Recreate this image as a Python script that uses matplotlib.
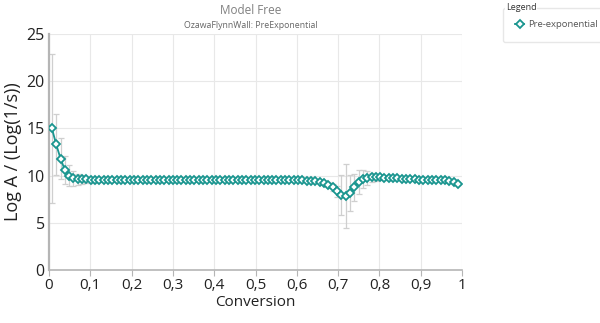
import numpy as np
import matplotlib
matplotlib.use("Agg")
import matplotlib.pyplot as plt
from matplotlib.ticker import FuncFormatter
from matplotlib.lines import Line2D

plt.rcParams['font.family'] = ['Open Sans', 'DejaVu Sans']

# conversion grid (95 points) and Log A values with error
conversion = np.round(np.linspace(0.007, 0.99, 95), 4)
log_a = [15.0, 13.3, 11.8, 10.6, 10.0, 9.7, 9.6, 9.6, 9.6, 9.55,
         9.55, 9.55, 9.55, 9.5, 9.5, 9.5, 9.5, 9.5, 9.5, 9.5,
         9.5, 9.5, 9.5, 9.5, 9.5, 9.5, 9.5, 9.5, 9.55, 9.55,
         9.55, 9.55, 9.55, 9.55, 9.55, 9.55, 9.55, 9.55, 9.55, 9.55,
         9.55, 9.55, 9.55, 9.55, 9.55, 9.55, 9.55, 9.55, 9.55, 9.55,
         9.55, 9.55, 9.55, 9.55, 9.5, 9.5, 9.5, 9.5, 9.5, 9.45,
         9.45, 9.4, 9.35, 9.25, 9.05, 8.75, 8.35, 7.95, 7.8, 8.2,
         8.75, 9.3, 9.6, 9.75, 9.8, 9.8, 9.8, 9.75, 9.75, 9.7,
         9.7, 9.65, 9.6, 9.6, 9.6, 9.55, 9.55, 9.55, 9.55, 9.55,
         9.5, 9.5, 9.45, 9.35, 9.15]
log_a_err = [7.9, 3.2, 2.2, 1.5, 1.1, 0.8, 0.6, 0.5, 0.4, 0.35,
             0.3, 0.25, 0.2, 0.15, 0.15, 0.1, 0.1, 0.1, 0.1, 0.1,
             0.1, 0.1, 0.1, 0.1, 0.1, 0.1, 0.1, 0.1, 0.1, 0.1,
             0.1, 0.1, 0.1, 0.1, 0.1, 0.1, 0.1, 0.1, 0.1, 0.1,
             0.1, 0.1, 0.1, 0.1, 0.1, 0.1, 0.1, 0.1, 0.1, 0.1,
             0.1, 0.1, 0.1, 0.1, 0.1, 0.1, 0.1, 0.1, 0.1, 0.1,
             0.1, 0.1, 0.15, 0.2, 0.3, 0.4, 0.6, 2.15, 3.4, 1.9,
             1.45, 1.25, 0.95, 0.7, 0.5, 0.4, 0.3, 0.25, 0.2, 0.15,
             0.15, 0.1, 0.1, 0.1, 0.1, 0.1, 0.1, 0.1, 0.1, 0.1,
             0.1, 0.1, 0.1, 0.1, 0.1]
x_ticks = [0, 0.1, 0.2, 0.3, 0.4, 0.5, 0.6, 0.7, 0.8, 0.9, 1]
y_ticks = [0, 5, 10, 15, 20, 25]

teal = '#19958f'

fig = plt.figure(figsize=(6, 3.23), dpi=100)
ax = fig.add_axes([49 / 600, 53 / 323, 413 / 600, 236 / 323])

ax.errorbar(conversion, log_a, yerr=log_a_err, fmt='none', ecolor='#cfcfcf',
            elinewidth=0.9, capsize=2, capthick=0.9, zorder=2)
ax.plot(conversion, log_a, color=teal, lw=1.3, marker='D', markersize=4.0,
        markerfacecolor='white', markeredgecolor=teal, markeredgewidth=1.3, zorder=3)

ax.set_xlim(0, 1)
ax.set_ylim(0, 25)
ax.set_xticks(x_ticks)
ax.set_yticks(y_ticks)
ax.xaxis.set_major_formatter(FuncFormatter(lambda v, p: f"{v:g}".replace('.', ',')))
ax.grid(True, color='#e8e8e8', lw=0.8)
ax.set_axisbelow(True)
for s in ['top', 'right']:
    ax.spines[s].set_visible(False)
ax.spines['left'].set_color('#b5b5b5')
ax.spines['left'].set_linewidth(1.6)
ax.spines['bottom'].set_color('#b5b5b5')
ax.spines['bottom'].set_linewidth(1.2)
ax.tick_params(axis='x', length=4, color='#b5b5b5', labelsize=11, pad=2, labelcolor='#222222')
ax.tick_params(axis='y', length=0, labelsize=11.5, pad=3, labelcolor='#222222')

ax.set_xlabel('Conversion', fontsize=11, color='#222222', labelpad=1)
ax.set_ylabel('Log A / (Log(1/s))', fontsize=13, color='#222222', labelpad=3)

fig.text(251 / 600, 1 - 10 / 323, 'Model Free', ha='center', va='center',
         fontsize=8.5, color='#808080')
fig.text(251 / 600, 1 - 25 / 323, 'OzawaFlynnWall: PreExponential', ha='center',
         va='center', fontsize=6.3, color='#666666')

# legend box
handle = Line2D([], [], color=teal, lw=1.3, marker='D', markersize=4.0,
                markerfacecolor='white', markeredgecolor=teal, markeredgewidth=1.3)
leg = fig.legend([handle], ['Pre-exponential'], loc='upper left',
                 bbox_to_anchor=(503 / 600, 1 - 8 / 323), fontsize=6.8,
                 frameon=True, fancybox=True, edgecolor='#e2e2e2',
                 handlelength=0.9, handletextpad=0.5, borderpad=1.3,
                 borderaxespad=0)
for t in leg.get_texts():
    t.set_color('#555555')
fig.text(506 / 600, 1 - 8 / 323, 'Legend', ha='left', va='center', fontsize=6.5,
         color='#333333', zorder=10,
         bbox=dict(facecolor='white', edgecolor='none', pad=0.5))

fig.savefig('out.png', dpi=100)
